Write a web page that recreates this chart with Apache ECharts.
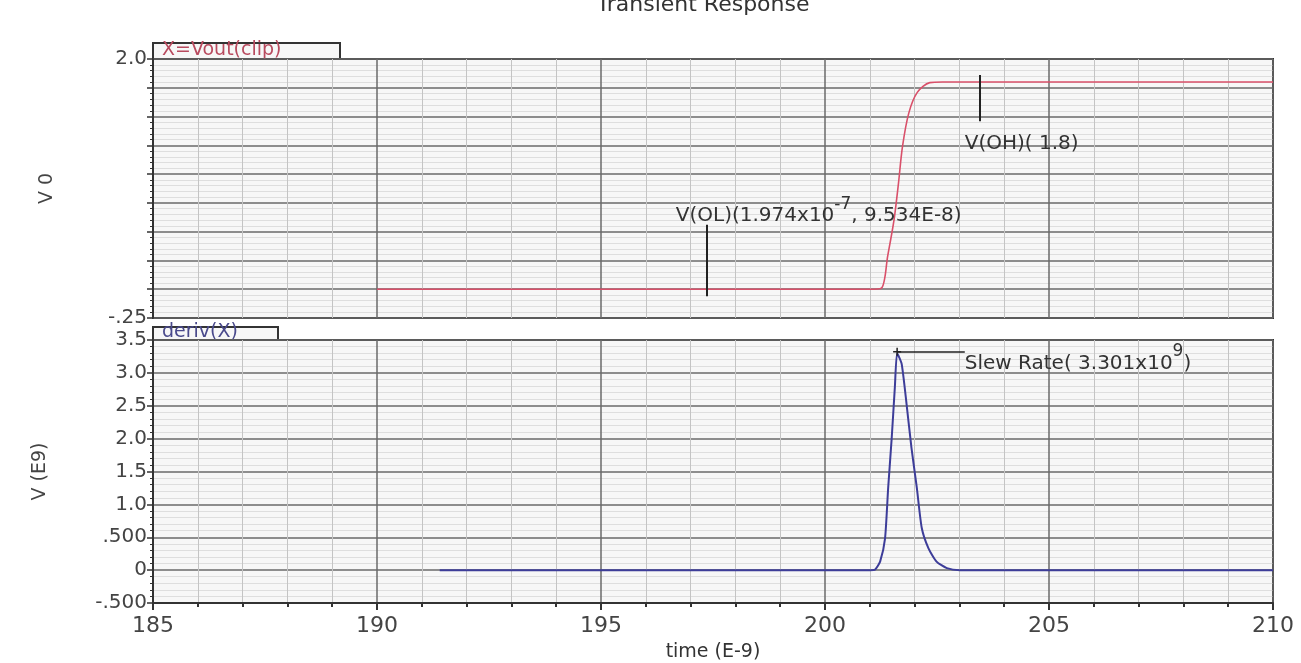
<!DOCTYPE html>
<html>
<head>
<meta charset="utf-8">
<script src="https://cdn.jsdelivr.net/npm/echarts@6/dist/echarts.min.js"></script>
<style>
  html, body { margin: 0; padding: 0; background: #fff; }
  #chart { width: 1301px; height: 663px; }
</style>
</head>
<body>
<div id="chart"></div>
<script>
// Vout(clip) transient, time in ns
const tOut = [190, 201.0, 201.26, 201.40, 201.54, 201.64, 201.73, 201.87, 202.06, 202.34, 202.62, 210];
const vOut = [0, 0, 0.01, 0.29, 0.60, 0.92, 1.24, 1.53, 1.71, 1.795, 1.8, 1.8];

// deriv(X), in units of 1e9 V/s
const tDer = [191.4, 201.0, 201.12, 201.23, 201.34, 201.41, 201.49, 201.56, 201.61, 201.71, 201.82, 201.93, 202.05, 202.16, 202.31, 202.49, 202.72, 203.01, 210];
const dDer = [0, 0, 0.01, 0.13, 0.48, 1.25, 2.02, 2.79, 3.30, 3.14, 2.53, 1.86, 1.25, 0.64, 0.33, 0.13, 0.03, 0, 0];

// markers: [time, yFrom, yTo] and label anchors [time, y]
const olMarker = [197.37, -0.06, 0.56];
const olLabelAt = [196.67, 0.68];
const ohMarker = [203.46, 1.86, 1.46];
const ohLabelAt = [203.12, 1.31];
const slewPeak = [201.61, 3.32];
const slewEnd = [203.12, 3.32];
const slewLabelAt = [203.12, 3.22];

const chart = echarts.init(document.getElementById('chart'));

const font = 'DejaVu Sans';
const labelRich = {
  t: { fontSize: 20, fontFamily: font, color: '#333', lineHeight: 30, verticalAlign: 'bottom' },
  s: { fontSize: 17, fontFamily: font, color: '#333', lineHeight: 15, verticalAlign: 'top' }
};

function textMark(coord, text) {
  return {
    coord: coord,
    symbol: 'circle',
    symbolSize: 0,
    label: { show: true, position: 'right', distance: 0, formatter: text, rich: labelRich }
  };
}

const xAxisBase = {
  type: 'value',
  min: 185,
  max: 210,
  interval: 5,
  splitLine: { show: true, lineStyle: { color: '#6a6a6a', width: 1.5 } },
  minorSplitLine: { show: true, lineStyle: { color: '#c4c4c4', width: 1 } },
  minorTick: { splitNumber: 5 }
};

const option = {
  backgroundColor: '#fff',
  animation: false,
  title: {
    text: 'Transient Response',
    left: 698,
    top: -11,
    textAlign: 'center',
    textStyle: { fontFamily: font, fontSize: 22, fontWeight: 'normal', color: '#333' }
  },
  grid: [
    { left: 153, right: 28, top: 59, height: 259, show: true, backgroundColor: '#f7f7f7', borderColor: '#333', borderWidth: 2 },
    { left: 153, right: 28, top: 340, height: 263, show: true, backgroundColor: '#f7f7f7', borderColor: '#333', borderWidth: 2 }
  ],
  xAxis: [
    Object.assign({}, xAxisBase, {
      gridIndex: 0,
      axisLine: { show: false },
      axisTick: { show: false },
      axisLabel: { show: false },
      minorTick: { show: false, splitNumber: 5 }
    }),
    Object.assign({}, xAxisBase, {
      gridIndex: 1,
      name: 'time (E-9)',
      nameLocation: 'middle',
      nameGap: 40,
      nameTextStyle: { fontFamily: font, fontSize: 19, color: '#333' },
      axisLine: { show: true, onZero: false, lineStyle: { color: '#333', width: 2 } },
      axisTick: { show: true, length: 7, lineStyle: { color: '#333', width: 2 } },
      minorTick: { show: true, splitNumber: 5, length: 4, lineStyle: { color: '#333', width: 2 } },
      axisLabel: { fontFamily: font, fontSize: 22, color: '#444', margin: 12 }
    })
  ],
  yAxis: [
    {
      type: 'value',
      gridIndex: 0,
      min: -0.25,
      max: 2.0,
      interval: 0.25,
      name: 'V 0',
      nameLocation: 'middle',
      nameGap: 96,
      nameTextStyle: { fontFamily: font, fontSize: 19, color: '#444' },
      axisLine: { show: true, lineStyle: { color: '#333', width: 2 } },
      axisTick: { show: true, length: 6, lineStyle: { color: '#333', width: 1.5 } },
      minorTick: { show: true, splitNumber: 5, length: 3, lineStyle: { color: '#333' } },
      axisLabel: {
        fontFamily: font, fontSize: 20, color: '#444', margin: 6,
        showMinLabel: true, showMaxLabel: true,
        formatter: function (v) {
          if (Math.abs(v - 2) < 1e-9) return '2.0';
          if (Math.abs(v + 0.25) < 1e-9) return '-.25';
          return '';
        }
      },
      splitLine: { show: true, lineStyle: { color: '#6a6a6a', width: 1.5 } },
      minorSplitLine: { show: true, lineStyle: { color: '#dedede', width: 1 } }
    },
    {
      type: 'value',
      gridIndex: 1,
      min: -0.5,
      max: 3.5,
      interval: 0.5,
      name: 'V (E9)',
      nameLocation: 'middle',
      nameGap: 103,
      nameTextStyle: { fontFamily: font, fontSize: 19, color: '#444' },
      axisLine: { show: true, lineStyle: { color: '#333', width: 2 } },
      axisTick: { show: true, length: 6, lineStyle: { color: '#333', width: 1.5 } },
      minorTick: { show: true, splitNumber: 5, length: 3, lineStyle: { color: '#333' } },
      axisLabel: {
        fontFamily: font, fontSize: 20, color: '#444', margin: 6,
        formatter: function (v) {
          if (Math.abs(v) < 1e-9) return '0';
          if (Math.abs(v) < 1) return (v < 0 ? '-' : '') + '.' + Math.round(Math.abs(v) * 1000);
          return v.toFixed(1);
        }
      },
      splitLine: { show: true, lineStyle: { color: '#6a6a6a', width: 1.5 } },
      minorSplitLine: { show: true, lineStyle: { color: '#dedede', width: 1 } }
    }
  ],
  graphic: [
    {
      type: 'group',
      children: [
        { type: 'rect', shape: { x: 153, y: 43, width: 187, height: 16 }, style: { fill: '#f7f7f7', stroke: '#333', lineWidth: 2 } },
        { type: 'text', x: 162, y: 41, style: { text: 'X=Vout(clip)', font: '19px "DejaVu Sans"', fill: '#b84a5e' } },
        { type: 'rect', shape: { x: 153, y: 327, width: 125, height: 13 }, style: { fill: '#f7f7f7', stroke: '#333', lineWidth: 2 } },
        { type: 'text', x: 162, y: 323, style: { text: 'deriv(X)', font: '19px "DejaVu Sans"', fill: '#4a4a8c' } }
      ]
    }
  ],
  series: [
    {
      name: 'X=Vout(clip)',
      type: 'line',
      xAxisIndex: 0,
      yAxisIndex: 0,
      data: tOut.map((t, i) => [t, vOut[i]]),
      showSymbol: false,
      smooth: 0.3,
      lineStyle: { color: '#d9506a', width: 1.6 },
      markLine: {
        silent: true,
        symbol: 'none',
        label: { show: false },
        lineStyle: { color: '#222', width: 2, type: 'solid' },
        data: [
          [{ coord: [olMarker[0], olMarker[1]] }, { coord: [olMarker[0], olMarker[2]] }],
          [{ coord: [ohMarker[0], ohMarker[1]] }, { coord: [ohMarker[0], ohMarker[2]] }]
        ]
      },
      markPoint: {
        silent: true,
        data: [
          textMark(olLabelAt, '{t|V(OL)(1.974x10}{s|-7}{t|, 9.534E-8)}'),
          textMark(ohLabelAt, '{t|V(OH)( 1.8)}')
        ]
      }
    },
    {
      name: 'deriv(X)',
      type: 'line',
      xAxisIndex: 1,
      yAxisIndex: 1,
      data: tDer.map((t, i) => [t, dDer[i]]),
      showSymbol: false,
      smooth: 0.2,
      lineStyle: { color: '#3d3d99', width: 2 },
      markLine: {
        silent: true,
        symbol: 'none',
        label: { show: false },
        lineStyle: { color: '#222', width: 1.5, type: 'solid' },
        data: [
          [{ coord: slewPeak }, { coord: slewEnd }]
        ]
      },
      markPoint: {
        silent: true,
        data: [
          textMark(slewLabelAt, '{t|Slew Rate( 3.301x10}{s|9}{t|)}'),
          { coord: slewPeak, symbol: 'path://M0,5L10,5M5,0L5,10', symbolSize: 8, itemStyle: { color: 'none', borderColor: '#222', borderWidth: 1.5 }, label: { show: false } }
        ]
      }
    }
  ]
};

chart.setOption(option);
</script>
</body>
</html>
